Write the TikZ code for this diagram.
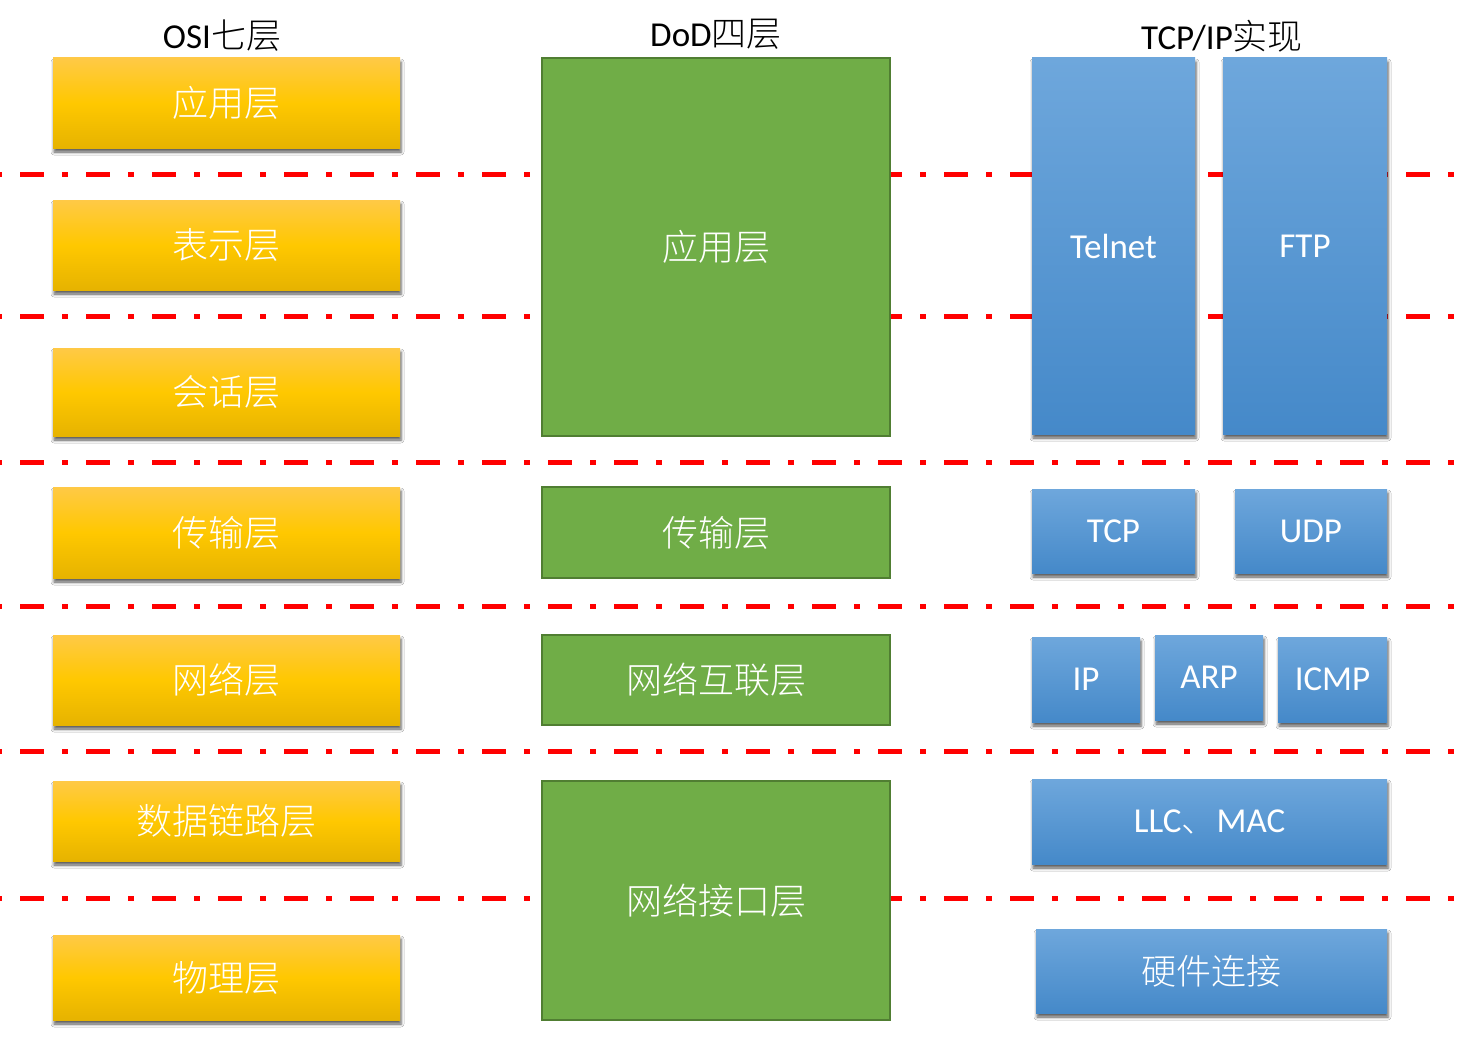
\documentclass[tikz,border=0pt]{standalone}
\usepackage{fontspec}
\setmainfont{Carlito}
\newfontfamily\cjk{Noto Sans CJK SC}[UprightFont=* Light]
\usetikzlibrary{shadows.blur}
\definecolor{yTop}{HTML}{FFC946}
\definecolor{yMid}{HTML}{FFC800}
\definecolor{yBot}{HTML}{E6B300}
\definecolor{gFill}{HTML}{70AD47}
\definecolor{gLine}{HTML}{507E32}
\definecolor{bTop}{HTML}{6EA7DC}
\definecolor{bBot}{HTML}{4589C9}
\definecolor{sepRed}{HTML}{FF0000}
\tikzset{
 base/.style={rectangle, inner sep=0pt, outer sep=0pt, text=white, font=\fontsize{36}{40}\selectfont},
 shadowed/.style={blur shadow={shadow xshift=1pt, shadow yshift=-4pt, shadow blur radius=3pt, shadow opacity=65}},
 ybox/.style={base, shadowed, top color=yTop, bottom color=yBot, middle color=yMid},
 gbox/.style={base, fill=gFill, draw=gLine, line width=2pt},
 bbox/.style={base, shadowed, top color=bTop, bottom color=bBot, middle color=bTop!50!bBot, font=\fontsize{35}{40}\selectfont},
 hdr/.style={font=\fontsize{35}{40}\selectfont, text=black, inner sep=0pt},
 sepline/.style={draw=sepRed, line width=5pt, dash pattern=on 6pt off 18pt on 24pt off 18pt},
}
\newcommand\mkbox[7]{\node[#1, minimum width={#5-#3}, minimum height={#6-#4}] (#2) at ({(#3+#5)/2},{(#4+#6)/2}) {#7};}
\begin{document}
\begin{tikzpicture}[x=1pt,y=-1pt]
\useasboundingbox[fill=white] (0,0) rectangle (1470,1049);
% separator lines
\foreach \yy/\nm in {174/a,316/b,462/c,606/d,751/e,898/f}{
  \coordinate (s\nm L) at (-4,\yy);
  \coordinate (s\nm R) at (1454,\yy);
  \draw[sepline] (s\nm L) -- (s\nm R);
}
% headers
\node[hdr] (h1) at (222,36) {OSI{\cjk 七层}};
\node[hdr] (h2) at (716,34) {DoD{\cjk 四层}};
\node[hdr] (h3) at (1222,36) {TCP/IP{\cjk 实现}};
% OSI column
\mkbox{ybox}{o1}{53}{58}{400}{148}{\cjk 应用层}
\mkbox{ybox}{o2}{53}{200}{400}{290}{\cjk 表示层}
\mkbox{ybox}{o3}{53}{348}{400}{436}{\cjk 会话层}
\mkbox{ybox}{o4}{53}{487}{400}{578}{\cjk 传输层}
\mkbox{ybox}{o5}{53}{635}{400}{725}{\cjk 网络层}
\mkbox{ybox}{o6}{53}{781}{400}{861}{\cjk 数据链路层}
\mkbox{ybox}{o7}{53}{935}{400}{1020}{\cjk 物理层}
% DoD column
\mkbox{gbox}{d1}{542}{58}{890}{436}{\cjk 应用层}
\mkbox{gbox}{d2}{542}{487}{890}{578}{\cjk 传输层}
\mkbox{gbox}{d3}{542}{635}{890}{725}{\cjk 网络互联层}
\mkbox{gbox}{d4}{542}{781}{890}{1020}{\cjk 网络接口层}
% TCP/IP column
\mkbox{bbox}{t1}{1032}{58}{1195}{434}{Telnet}
\mkbox{bbox}{t2}{1223}{58}{1387}{434}{FTP}
\mkbox{bbox}{t3}{1032}{489}{1195}{573}{TCP}
\mkbox{bbox}{t4}{1235}{489}{1387}{573}{UDP}
\mkbox{bbox}{t5}{1032}{637}{1140}{722}{IP}
\mkbox{bbox}{t6}{1155}{635}{1263}{720}{ARP}
\mkbox{bbox}{t7}{1278}{637}{1387}{722}{ICMP}
\mkbox{bbox}{t8}{1032}{779}{1387}{864}{LLC{\cjk 、}MAC}
\mkbox{bbox}{t9}{1036}{929}{1387}{1013}{\cjk 硬件连接}
\end{tikzpicture}
\end{document}
